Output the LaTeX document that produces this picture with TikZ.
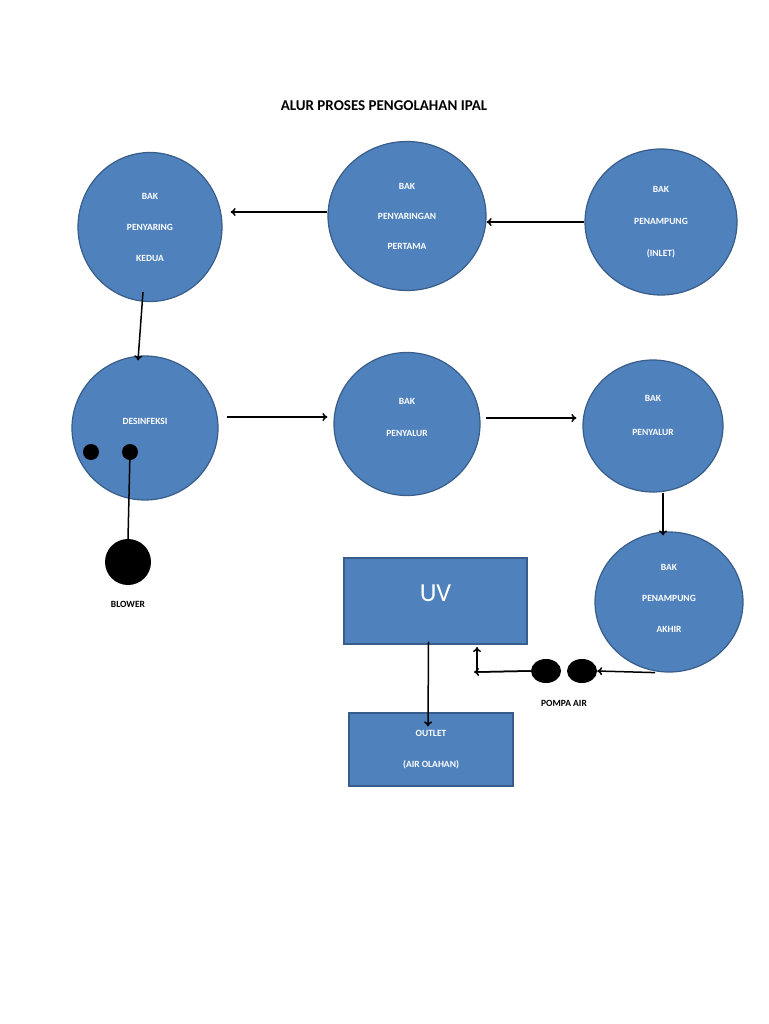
\documentclass[tikz,border=0pt]{standalone}
\usepackage{fontspec}
\setmainfont{Carlito}
\usetikzlibrary{arrows.meta,shapes.geometric}
\definecolor{tank}{RGB}{79,129,189}
\definecolor{tankline}{RGB}{56,93,138}
\tikzset{
  tank/.style={ellipse,draw=tankline,line width=1.2pt,fill=tank,text=white,
    font=\bfseries\fontsize{9.5}{31}\selectfont,align=center},
  box/.style={rectangle,draw=tankline,line width=1.2pt,fill=tank,text=white,align=center},
  arr/.style={line width=1.5pt,-{To[length=5pt,width=8pt]}},
  dot/.style={ellipse,fill=black,inner sep=0pt}
}
\begin{document}
\begin{tikzpicture}[x=1pt,y=-1pt]
\useasboundingbox (0,0) rectangle (768,1024);
\node[font=\bfseries\fontsize{15}{18}\selectfont] (title) at (384,106) {ALUR PROSES PENGOLAHAN IPAL};
% tanks
\node[tank,minimum width=144pt,minimum height=149pt] (kedua) at (150,227) {BAK\\PENYARING\\KEDUA};
\node[tank,minimum width=158pt,minimum height=149pt,font=\bfseries\fontsize{9.5}{30}\selectfont] (pertama) at (407,216) {BAK\\PENYARINGAN\\PERTAMA};
\node[tank,minimum width=152pt,minimum height=146pt,font=\bfseries\fontsize{9.5}{32}\selectfont] (inlet) at (661,222) {BAK\\PENAMPUNG\\(INLET)};
\node[tank,minimum width=146pt,minimum height=144pt] (desinfeksi) at (145,428) {};
\node[font=\bfseries\fontsize{9.5}{12}\selectfont,text=white] at (145,421) {DESINFEKSI};
\node[tank,minimum width=146pt,minimum height=143pt,font=\bfseries\fontsize{9.5}{32}\selectfont] (penyalur) at (407,424) {};
\node[font=\bfseries\fontsize{9.5}{32}\selectfont,text=white,align=center] at (407,417) {BAK\\PENYALUR};
\node[tank,minimum width=140pt,minimum height=132pt] (penyalurdua) at (653,426) {};
\node[font=\bfseries\fontsize{9.5}{34}\selectfont,text=white,align=center] at (653,415) {BAK\\PENYALUR};
\node[tank,minimum width=148pt,minimum height=140pt] (akhir) at (669,602) {};
\node[font=\bfseries\fontsize{9.5}{31}\selectfont,text=white,align=center] at (669,598) {BAK\\PENAMPUNG\\AKHIR};
% boxes
\node[box,minimum width=183pt,minimum height=86pt,font=\fontsize{26}{30}\selectfont] (uv) at (435.5,601) {};
\node[text=white,font=\fontsize{26}{30}\selectfont] at (435.5,593) {UV};
\node[box,minimum width=164pt,minimum height=73pt,font=\bfseries\fontsize{9.5}{31}\selectfont] (outlet) at (431,749.5) {OUTLET\\(AIR OLAHAN)};
% blower and pump
\node[circle,fill=black,minimum size=46pt,inner sep=0pt] (blower) at (128,562) {};
\node[font=\bfseries\fontsize{9.5}{12}\selectfont] (blowerlbl) at (128,604) {BLOWER};
\node[dot,minimum size=16pt] (difa) at (91,452) {};
\node[dot,minimum size=16pt] (difb) at (130,452) {};
\node[dot,minimum width=30pt,minimum height=24pt] (pompaa) at (546,671) {};
\node[dot,minimum width=30pt,minimum height=24pt] (pompab) at (582,671) {};
\node[font=\bfseries\fontsize{9.5}{12}\selectfont] (pompalbl) at (564,703) {POMPA AIR};
\coordinate (uvin) at (477,672);
\coordinate (uvtop) at (477,647);
% flow
\draw[arr] ([yshift=0pt]inlet.west) -- ([xshift=0pt]inlet.west -| pertama.east);
\draw[arr] ([yshift=4pt]pertama.west) -- ([xshift=8pt,yshift=4pt]pertama.west -| kedua.east);
\draw[arr] ([xshift=-7pt,yshift=10pt]kedua.south) -- ([xshift=-7pt,yshift=-5pt]desinfeksi.north);
\draw[arr] ([xshift=8pt,yshift=11pt]desinfeksi.east) -- ([xshift=-6pt,yshift=11pt]desinfeksi.east -| penyalur.west);
\draw[arr] ([xshift=5pt,yshift=6pt]penyalur.east) -- ([xshift=-6pt,yshift=6pt]penyalur.east -| penyalurdua.west);
\draw[arr] ([xshift=10pt]penyalurdua.south) -- ([xshift=10pt,yshift=-4pt]penyalurdua.south |- akhir.north);
\draw[arr] ([xshift=-14pt]akhir.south) -- (pompab.east);
\draw[line width=1.5pt] (pompaa.west) -- (uvin);
\draw[arr] (pompaa.west) -- ([xshift=-3pt]uvin);
\draw[arr] (uvin) -- (uvtop);
\draw[arr] ([xshift=-7pt,yshift=3pt]uv.south) -- ([xshift=-3pt,yshift=-14pt]outlet.north);
\draw[arr] (blower.north) -- (difb.center);
\end{tikzpicture}
\end{document}
